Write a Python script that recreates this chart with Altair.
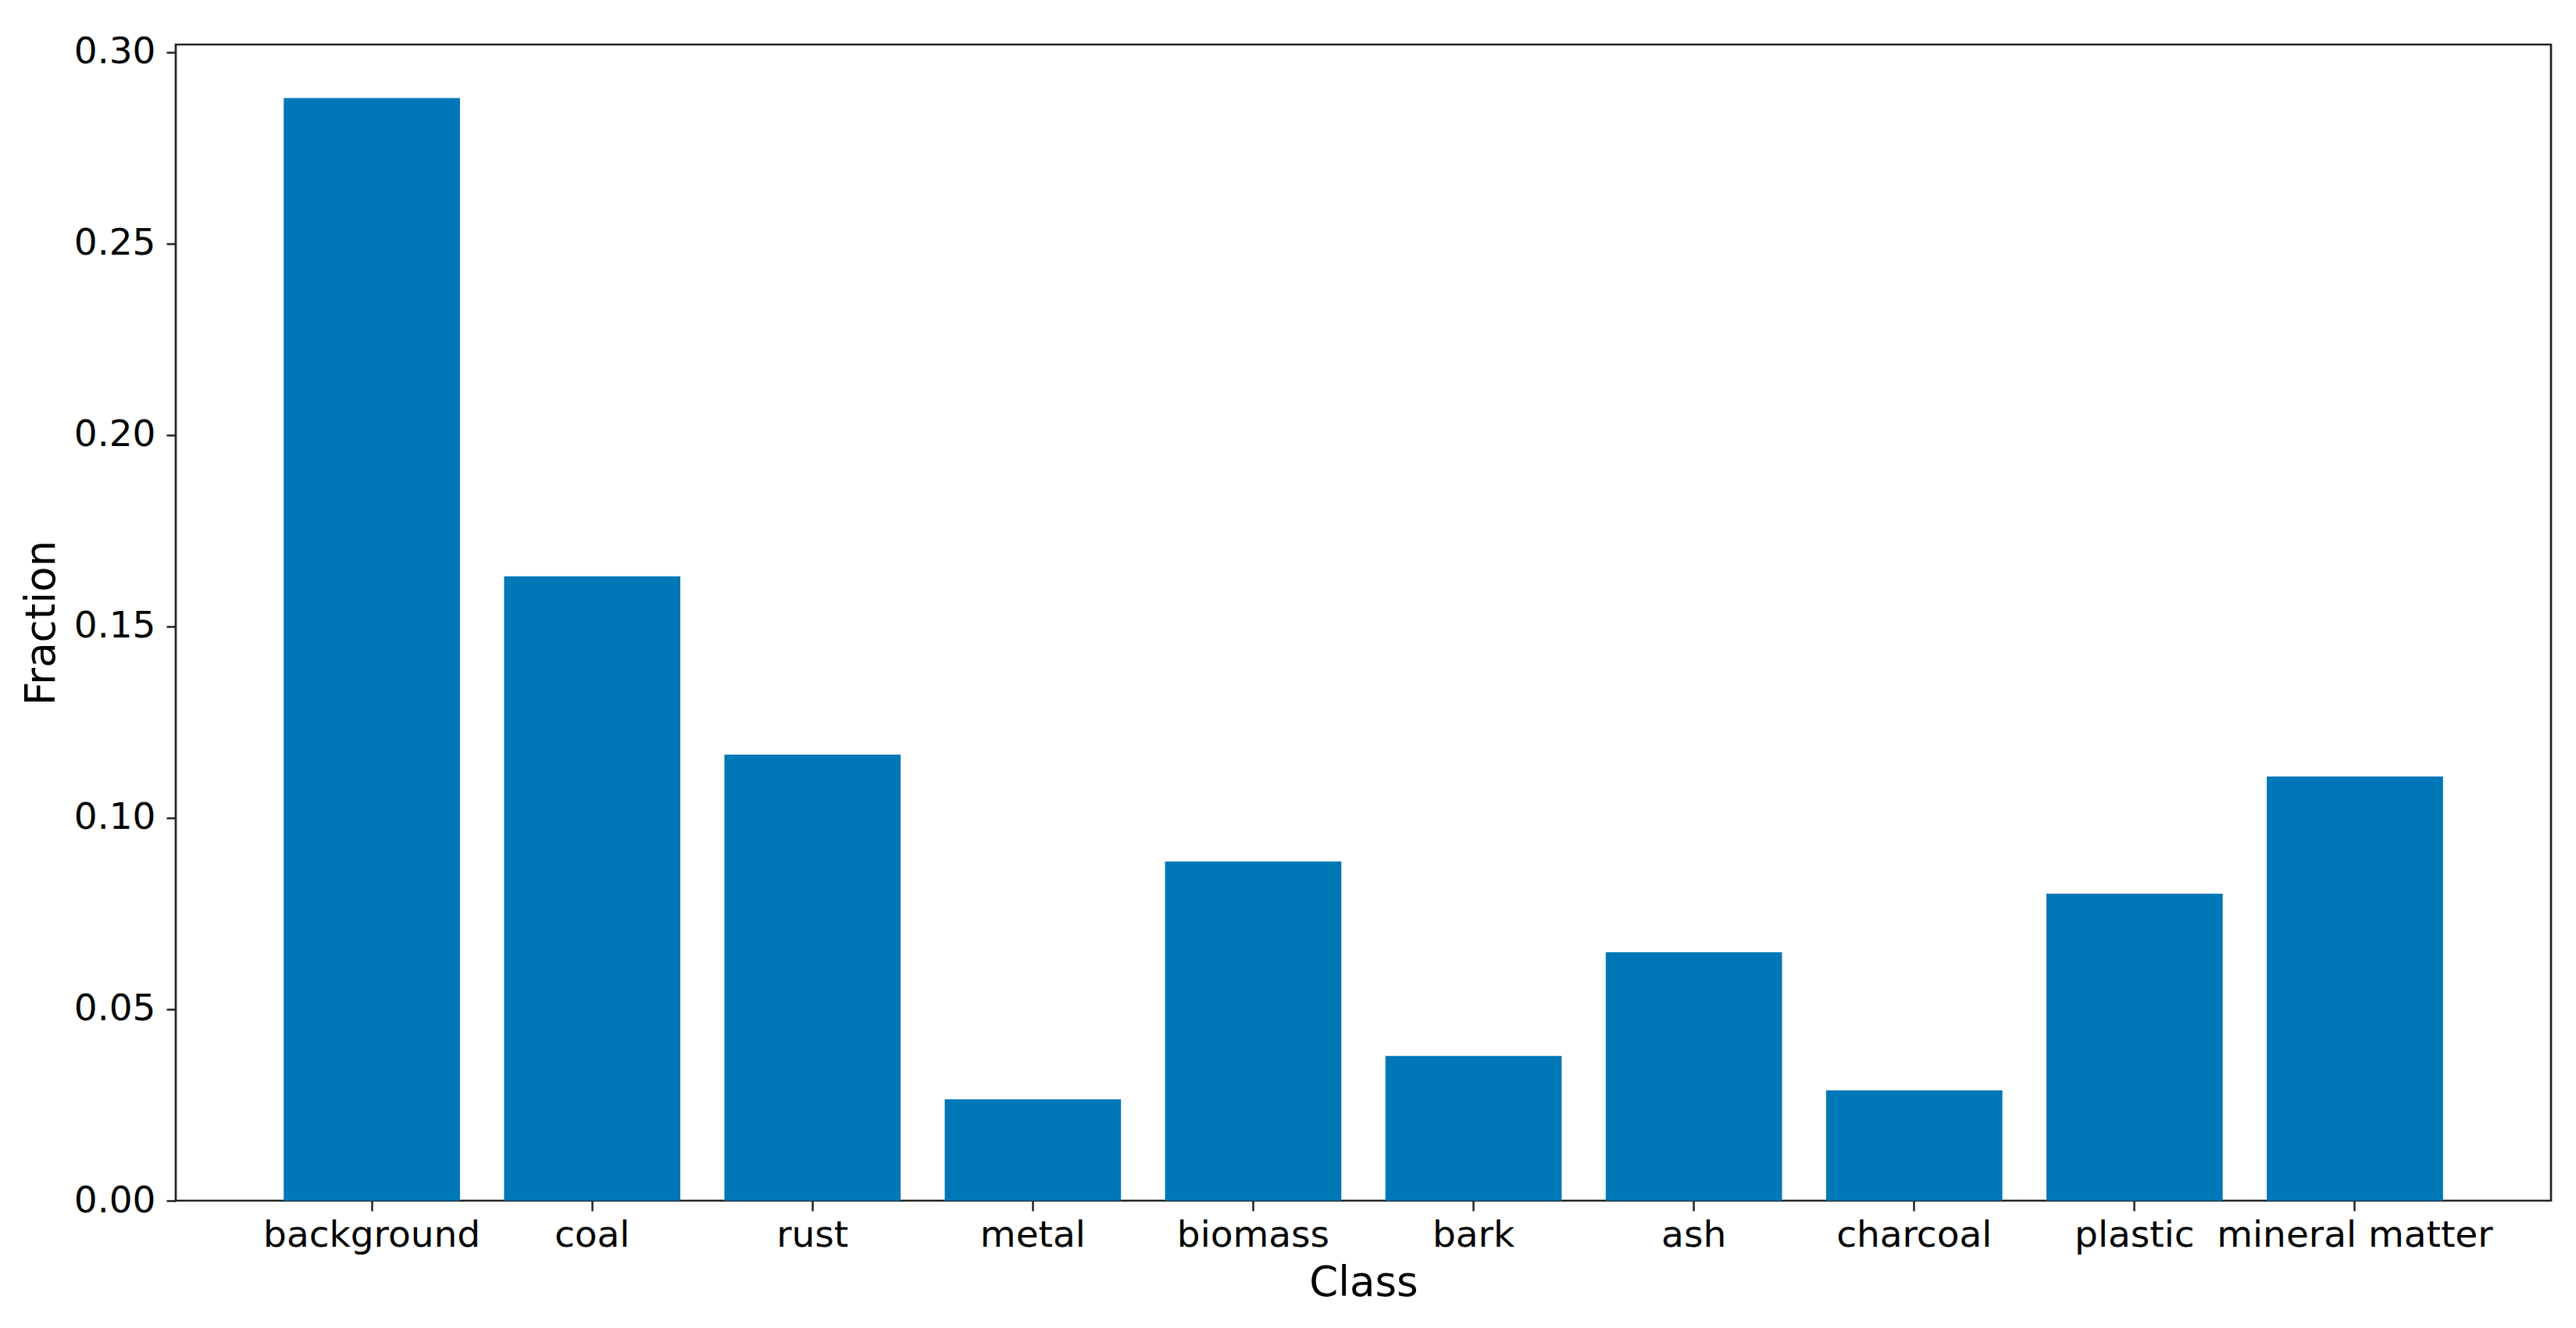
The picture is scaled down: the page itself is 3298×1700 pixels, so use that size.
import altair as alt
import pandas as pd

classes = ["background", "coal", "rust", "metal", "biomass", "bark", "ash",
           "charcoal", "plastic", "mineral matter"]
fractions = [0.288, 0.1631, 0.1165, 0.0265, 0.0886, 0.0378, 0.0649,
             0.0288, 0.0802, 0.1108]
y_ticks = [0.0, 0.05, 0.10, 0.15, 0.20, 0.25, 0.30]

df = pd.DataFrame({"Class": classes, "Fraction": fractions})

FONT = "DejaVu Sans"
INK = "#222222"

chart = (
    alt.Chart(df)
    .mark_bar(color="#0077b7")
    .encode(
        x=alt.X(
            "Class:N",
            sort=classes,
            scale=alt.Scale(paddingInner=0.2, paddingOuter=0.49),
            axis=alt.Axis(
                title="Class",
                labelAngle=0,
                labelFontSize=47,
                labelFont=FONT,
                labelColor="black",
                labelPadding=8,
                labelLimit=0,
                labelOverlap=False,
                tickSize=13,
                tickWidth=2.5,
                tickColor=INK,
                domain=False,
                titleFontSize=53,
                titleFont=FONT,
                titleFontWeight="normal",
                titleColor="black",
                titlePadding=12,
            ),
        ),
        y=alt.Y(
            "Fraction:Q",
            scale=alt.Scale(domain=[0, 0.302], nice=False),
            axis=alt.Axis(
                title="Fraction",
                values=y_ticks,
                format=".2f",
                grid=False,
                labelFontSize=47,
                labelFont=FONT,
                labelColor="black",
                labelPadding=14,
                tickSize=12,
                tickWidth=2.5,
                tickColor=INK,
                domain=False,
                titleFontSize=53,
                titleFont=FONT,
                titleFontWeight="normal",
                titleColor="black",
                titlePadding=14,
            ),
        ),
    )
    .properties(
        width=3041,
        height=1480,
        autosize=alt.AutoSizeParams(type="none"),
        padding={"left": 217, "top": 49, "right": 24, "bottom": 155},
    )
    .configure(
        background="white",
        view=alt.ViewConfig(stroke=INK, strokeWidth=2.7),
    )
)

chart.save("out.html", embed_options={"renderer": "svg", "actions": False})
